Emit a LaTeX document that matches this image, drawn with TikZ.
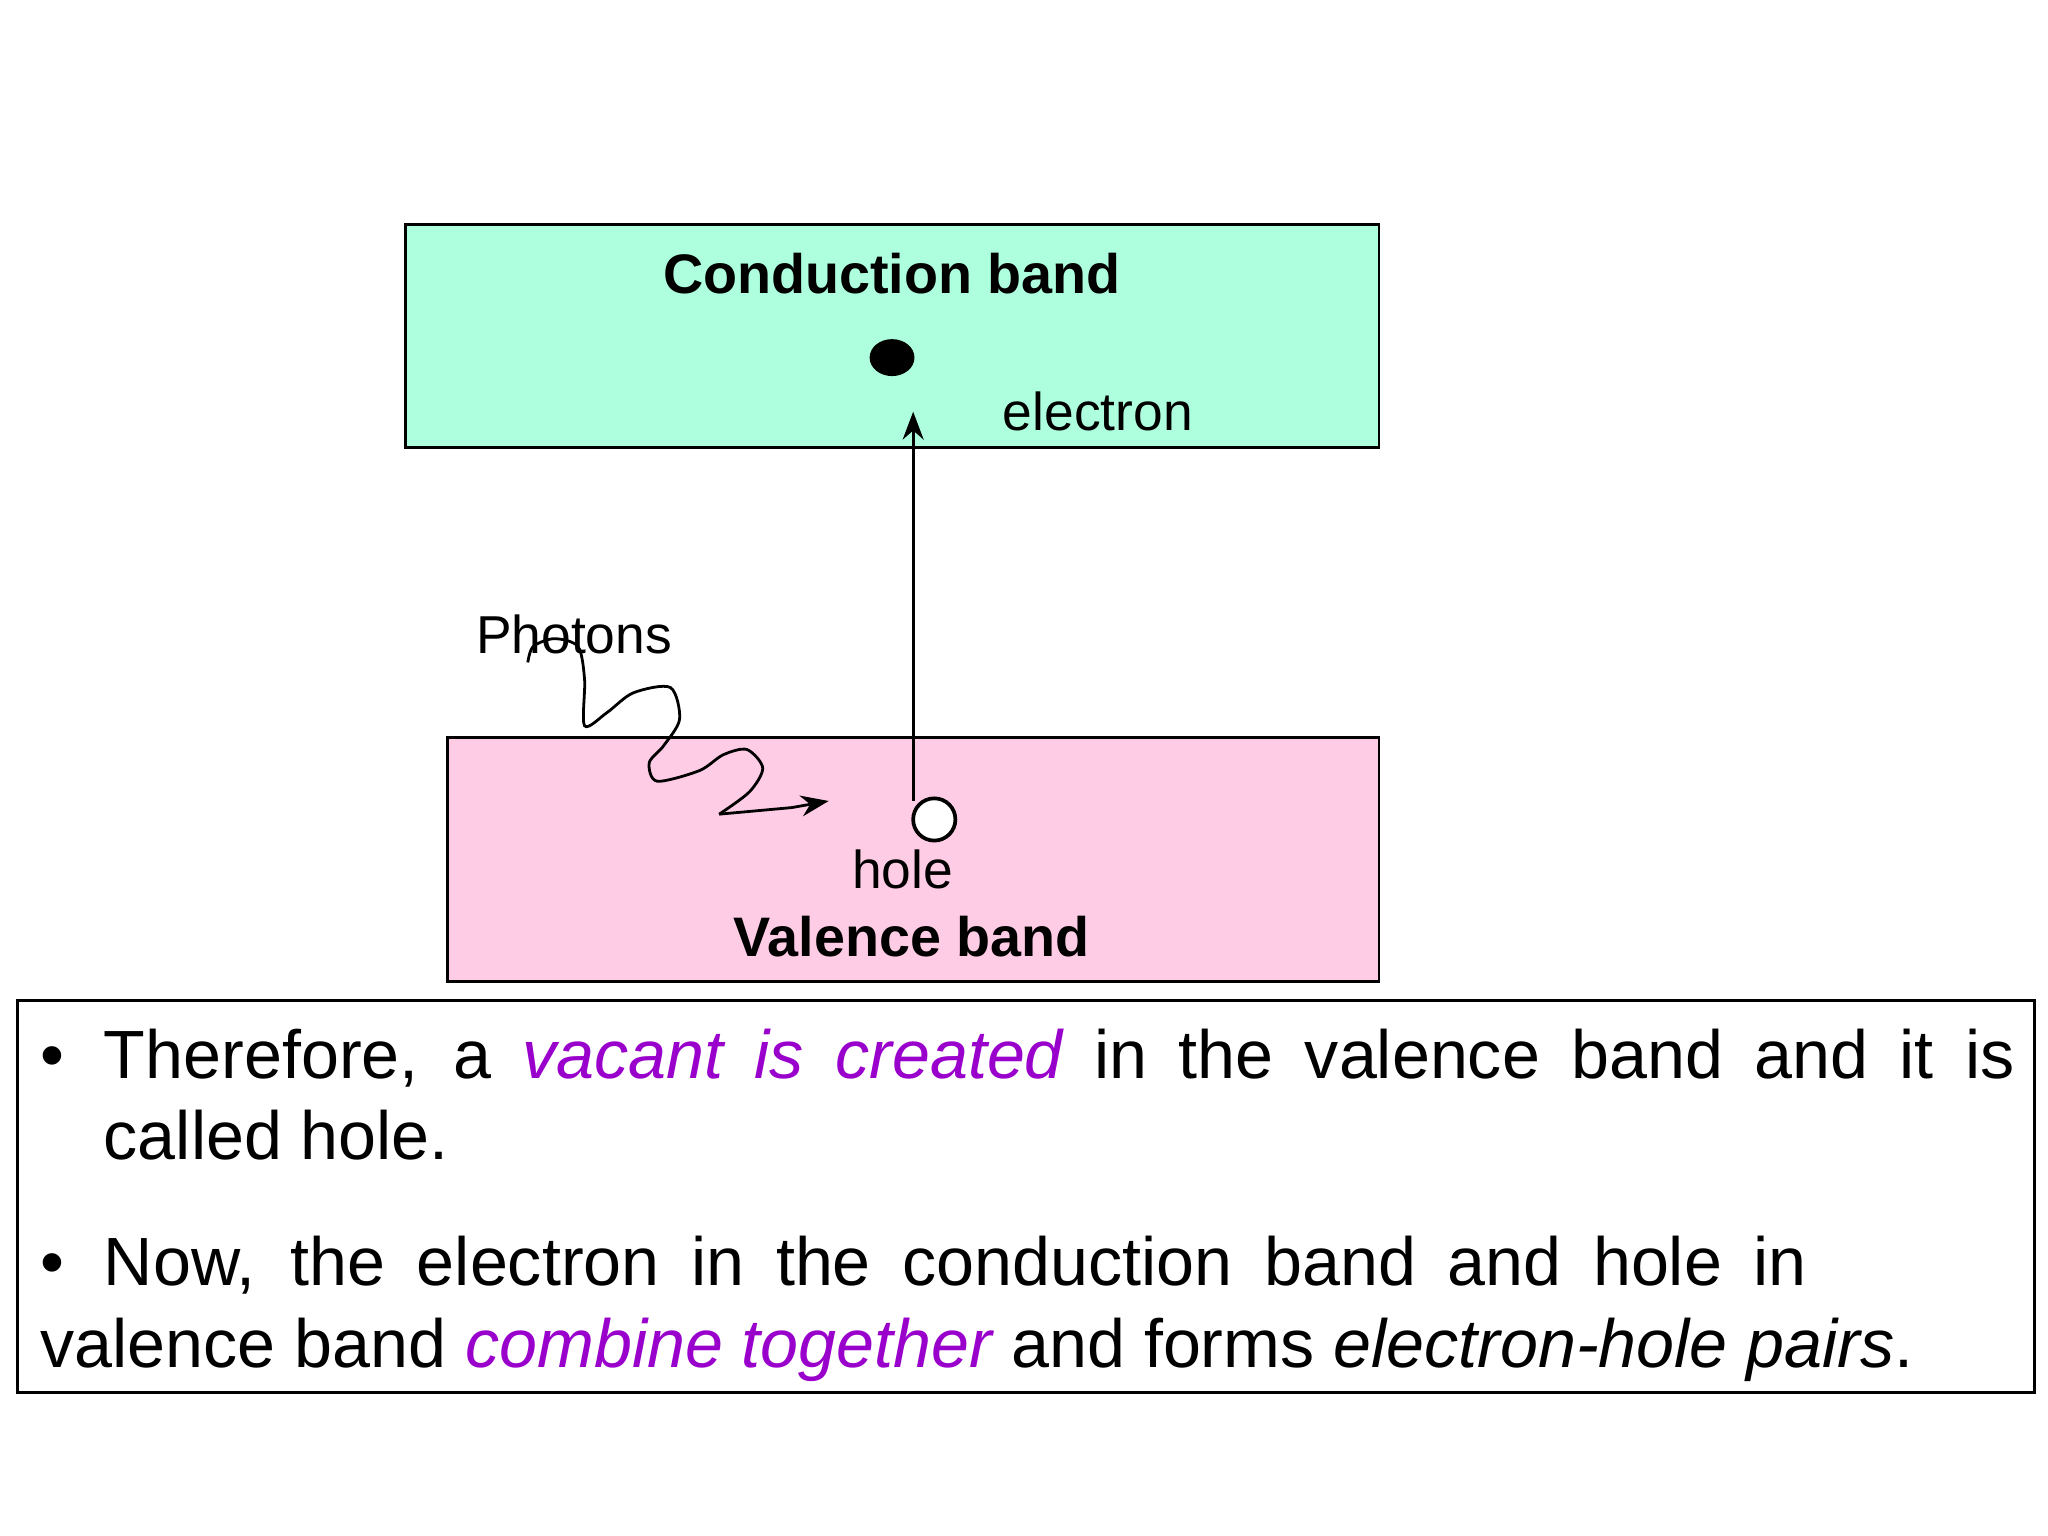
\documentclass[tikz,border=0pt]{standalone}
\usepackage{fontspec}
\usetikzlibrary{arrows.meta}
\setmainfont{Liberation Sans}
\definecolor{cband}{HTML}{ADFFDD}
\definecolor{vband}{HTML}{FFCCE6}
\definecolor{vio}{HTML}{9900CC}
\tikzset{band/.style={draw=black,line width=0.6pt},
 lbl/.style={inner sep=0pt,font=\fontsize{11.5}{13}\selectfont},
 ttl/.style={inner sep=0pt,font=\fontsize{12}{14}\selectfont\bfseries},
 body/.style={inner sep=0pt,anchor=base west,font=\fontsize{14.7}{17}\selectfont}}
\begin{document}
\begin{tikzpicture}[x=0.01cm,y=-0.01cm]
\useasboundingbox (0,0) rectangle (1552,1164);
\fill[white] (0,0) rectangle (1552,1164);
\draw[band,fill=cband] (307,170) rectangle (1045,339);
\draw[band,fill=vband] (339,559) rectangle (1045,744);
\node[ttl] (ct) at (676,207) {Conduction band};
\node[ttl] (vt) at (691,710) {Valence band};
\fill (676,271) ellipse [x radius=17,y radius=14];
\node[lbl] (el) at (832,312) {electron};
\node[lbl] (ho) at (684,659) {hole};
\node[lbl] (ph) at (435,481) {Photons};
\node[circle,draw,fill=white,line width=0.8pt,minimum size=0.32cm,inner sep=0pt] (hole) at (708,621) {};
\coordinate (top) at (692,312);
\draw[-{Stealth[length=6pt]},line width=0.7pt] (692,607) -- (top);
\draw[line width=0.6pt] plot[smooth,tension=0.5] coordinates {(400,502) (404,490) (420,484) (438,490) (443,515) (443,550) (460,540) (480,525) (508,521) (515,545) (503,565) (492,578) (498,592) (530,584) (548,572) (566,568) (578,582) (568,600) (545,617)};
\coordinate (pe) at (628,607);
\draw[-{Stealth[length=6pt]},line width=0.6pt] (545,617) -- (600,612) -- (pe);
\draw[line width=0.6pt] (13,758) rectangle (1542,1055);
\node[body] (l1) at (30,817) {\makebox[14.95cm][s]{•\hspace{0.3cm}Therefore, a \textcolor{vio}{\itshape vacant is created} in the valence band and it is}};
\node[body] (l2) at (78,879) {called hole.};
\node[body] (l3) at (30,974) {\makebox[13.38cm][s]{•\hspace{0.3cm}Now, the electron in the conduction band and hole in}};
\node[body] (l4) at (30,1036) {valence band \textcolor{vio}{\itshape combine together} and forms \textit{electron-hole pairs}.};
\end{tikzpicture}
\end{document}
